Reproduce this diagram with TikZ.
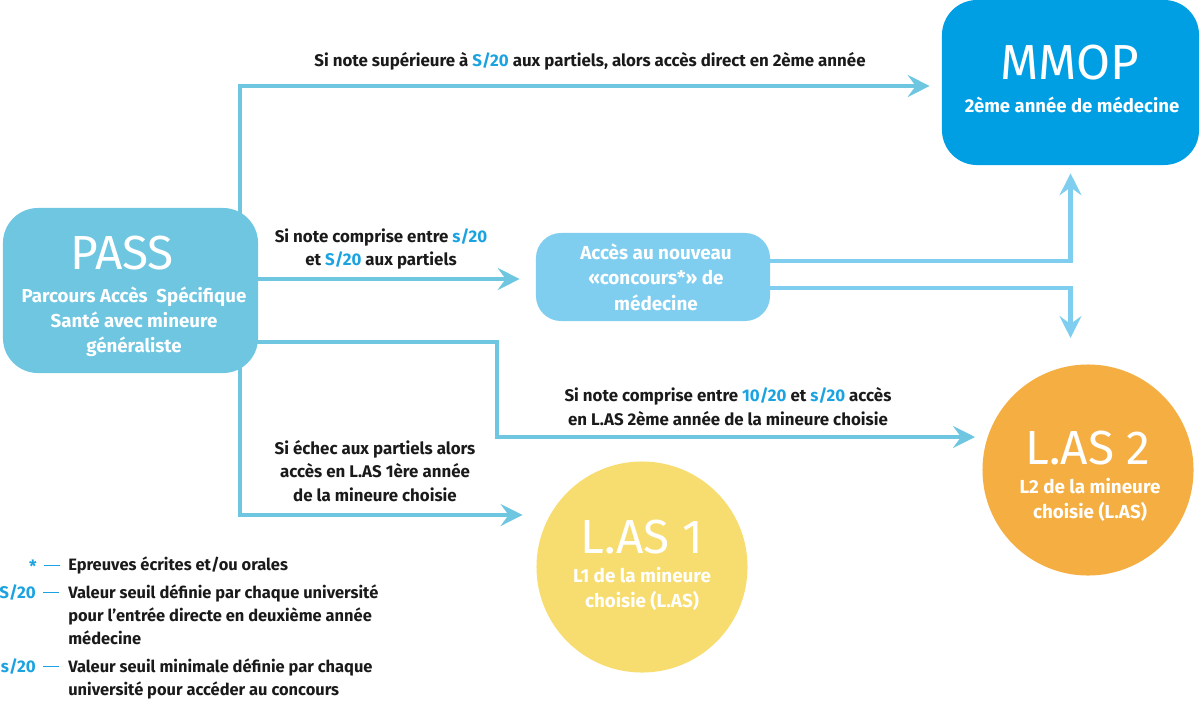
\documentclass[tikz,border=0pt]{standalone}
\usepackage{fontspec}
\setmainfont{Fira Sans}
\newfontfamily\labf{Fira Sans}
\usetikzlibrary{arrows.meta}
\definecolor{passc}{HTML}{6EC6E1}
\definecolor{concc}{HTML}{7FCEF0}
\definecolor{mmopc}{HTML}{009FE3}
\definecolor{lasA}{HTML}{F7DD6F}
\definecolor{lasB}{HTML}{F4AE42}
\definecolor{hl}{HTML}{1AA3E0}
\definecolor{ink}{HTML}{1A1A1A}
\pgfdeclarelayer{bg}
\pgfsetlayers{bg,main}
\tikzset{
 box/.style={draw=none, rounded corners=0.875cm, inner sep=0pt},
 disc/.style={circle, draw=none, inner sep=0pt, minimum size=5.275cm},
 arr/.style={draw=passc, line width=3.5pt, -{Stealth[length=0.55cm,width=0.55cm,inset=0.2cm]}},
 arrc/.style={arr, draw=concc},
 title/.style={text=white, font=\fontsize{34}{35}\selectfont, inner sep=0pt},
 sub/.style={text=white, font=\labf\bfseries\fontsize{13.3}{17.8}\selectfont, align=center, inner sep=0pt},
 lbl/.style={text=ink, font=\labf\bfseries\fontsize{12}{17}\selectfont, align=center, inner sep=0pt},
 leg/.style={text=ink, font=\labf\bfseries\fontsize{11.7}{16}\selectfont, inner sep=0pt, anchor=base west},
 sym/.style={text=hl, font=\labf\bfseries\fontsize{12}{16}\selectfont, inner sep=0pt, anchor=base east},
 dashl/.style={draw=hl, line width=0.6pt},
}
\begin{document}
\begin{tikzpicture}[x=0.025cm,y=-0.025cm]
\useasboundingbox (0,0) rectangle (1200,704);

% main boxes
\node[box, fill=passc, minimum width=6.375cm, minimum height=4.125cm] (pass) at (130.5,290.5) {};
\node[box, fill=mmopc, minimum width=6.425cm, minimum height=4.125cm] (mmop) at (1070.5,82.5) {};
\node[box, fill=concc, rounded corners=0.625cm, minimum width=5.85cm, minimum height=2.2cm] (conc) at (653,277) {};
\node[disc, fill=lasA] (las1) at (642,567) {};
\node[disc, fill=lasB] (las2) at (1088,470) {};

% texts in boxes
\node[title] (passT) at (122,253) {PASS};
\node[sub] (passS) at (134,322) {Parcours Accès\ \ Spécifique\\Santé avec mineure\\généraliste};
\node[title, font=\fontsize{35}{36}\selectfont] (mmopT) at (1070,63) {MMOP};
\node[sub, font=\labf\bfseries\fontsize{13.2}{17}\selectfont] (mmopS) at (1072,105) {2ème année de médecine};
\node[sub, font=\labf\bfseries\fontsize{13.4}{18}\selectfont] (concT) at (656,277) {Accès au nouveau\\«concours*» de\\médecine};
\node[title] (las1T) at (642,537) {L.AS 1};
\node[sub, font=\labf\bfseries\fontsize{13.4}{18}\selectfont] (las1S) at (642,589) {L1 de la mineure\\choisie (L.AS)};
\node[title] (las2T) at (1088,448) {L.AS 2};
\node[sub, font=\labf\bfseries\fontsize{13.4}{18}\selectfont] (las2S) at (1090,500) {L2 de la mineure\\choisie (L.AS)};

% coordinates for routing
\coordinate (k1) at (240,86);
\coordinate (k2) at (0,279);
\coordinate (k3) at (497,342);
\coordinate (t3) at (975,437);
\coordinate (k4) at (240,515);
\coordinate (k5) at (0,261);
\coordinate (k6) at (0,288);
\coordinate (t6) at (1070.5,338);

\begin{pgfonlayer}{bg}
\draw[arr, shorten >=0.3cm] (pass.center -| k1) |- (mmop.west |- k1);
\draw[arr, shorten >=0.4cm] (pass.center |- k2) -- (conc.west |- k2);
\draw[arr] (pass.center |- k3) -- (k3) |- (t3);
\draw[arr, shorten >=0.34cm] (pass.center -| k4) |- (las1.west |- k4);
\draw[arrc, shorten >=0.2cm] (conc.center |- k5) -| (mmop.south);
\draw[arrc] (conc.center |- k6) -| (t6);
\end{pgfonlayer}

% connector labels
\node[lbl] (l1) at (590,61) {Si note supérieure à \textcolor{hl}{S/20} aux partiels, alors accès direct en 2ème année};
\node[lbl] (l2) at (381,249) {Si note comprise entre \textcolor{hl}{s/20}\\et \textcolor{hl}{S/20} aux partiels};
\node[lbl] (l3) at (728,407) {Si note comprise entre \textcolor{hl}{10/20} et \textcolor{hl}{s/20} accès\\en L.AS 2ème année de la mineure choisie};
\node[lbl] (l4) at (375,471) {Si échec aux partiels alors\\accès en L.AS 1ère année\\de la mineure choisie};

% legend
\node[sym] (s1) at (37,572) {*};
\node[leg] (e1) at (68,570) {Epreuves écrites et/ou orales};
\node[sym] (s2) at (36,598) {S/20};
\node[leg] (e2a) at (68,598) {Valeur seuil définie par chaque université};
\node[leg] (e2b) at (68,621) {pour l’entrée directe en deuxième année};
\node[leg] (e2c) at (68,644) {médecine};
\node[sym] (s3) at (36,672) {s/20};
\node[leg] (e3a) at (68,672) {Valeur seuil minimale définie par chaque};
\node[leg] (e3b) at (68,695) {université pour accéder au concours};
\draw[dashl] (44,565) -- (60,565);
\draw[dashl] (43,592) -- (59,592);
\draw[dashl] (43,666) -- (59,666);
\end{tikzpicture}
\end{document}
